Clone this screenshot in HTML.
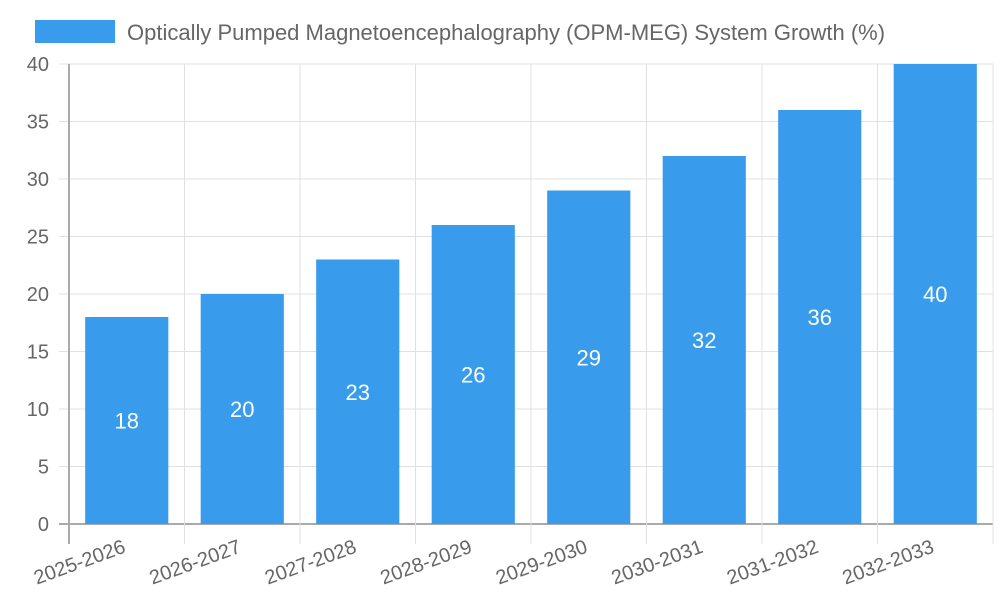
<!DOCTYPE html>
<html><head><meta charset="utf-8"><style>
body{margin:0;background:#fff;}
svg{display:block;font-family:"Liberation Sans",sans-serif;}
</style></head><body>
<svg id="chart" width="1000" height="600" viewBox="0 0 1000 600">
<g id="legend">
<rect x="35" y="20" width="80" height="23" fill="#389BEB"/>
<text x="127" y="40" font-size="22" fill="#666">Optically Pumped Magnetoencephalography (OPM-MEG) System Growth (%)</text>
</g>
<g id="grid"></g><g id="bars"></g><g id="axes"></g>
</svg>
<script>
const categories=["2025-2026","2026-2027","2027-2028","2028-2029","2029-2030","2030-2031","2031-2032","2032-2033"];
const values=[18,20,23,26,29,32,36,40];
const yTicks=[0,5,10,15,20,25,30,35,40];
const NS="http://www.w3.org/2000/svg";
const L=69,R=993,T=64,B=524,yMax=40;
const cw=(R-L)/categories.length;
const y=v=>B-(v/yMax)*(B-T);
const xc=i=>L+cw*(i+0.5);
function mk(tag,attrs,parent,txt){const e=document.createElementNS(NS,tag);for(const k in attrs)e.setAttribute(k,attrs[k]);if(txt!==undefined)e.textContent=txt;parent.appendChild(e);return e;}
const g=document.getElementById('grid'),bg=document.getElementById('bars'),ax=document.getElementById('axes');
yTicks.forEach(t=>{
 const l=mk('line',{x1:L-10,x2:R,y1:y(t),y2:y(t),stroke:t===0?'#aaa':'#e0e0e0','stroke-width':t===0?2:1},g);
 
 
 const tx=mk('text',{x:L-20,y:y(t)+7,'text-anchor':'end','font-size':20,fill:'#666'},ax,String(t));
 
 
});
for(let i=0;i<=categories.length;i++){
 const x=L+cw*i;
 const l=mk('line',{x1:x,x2:x,y1:T,y2:B+20,stroke:i===0?'#aaa':'#e0e0e0','stroke-width':i===0?2:1},g);
 
 
}
categories.forEach((c,i)=>{
 const bw=cw*0.72;
 const r=mk('rect',{x:xc(i)-bw/2,y:y(values[i]),width:bw,height:B-y(values[i]),fill:'#389BEB'},bg);
 
 
 const v=mk('text',{x:xc(i),y:(y(values[i])+B)/2+8,'text-anchor':'middle','font-size':22,fill:'#fff'},bg,String(values[i]));
 
 
 const lb=mk('text',{x:xc(i),y:B+28,'text-anchor':'end','font-size':20,fill:'#666',transform:`rotate(-20 ${xc(i)} ${B+28})`},ax,c);
 
 
});
</script>
</body></html>
